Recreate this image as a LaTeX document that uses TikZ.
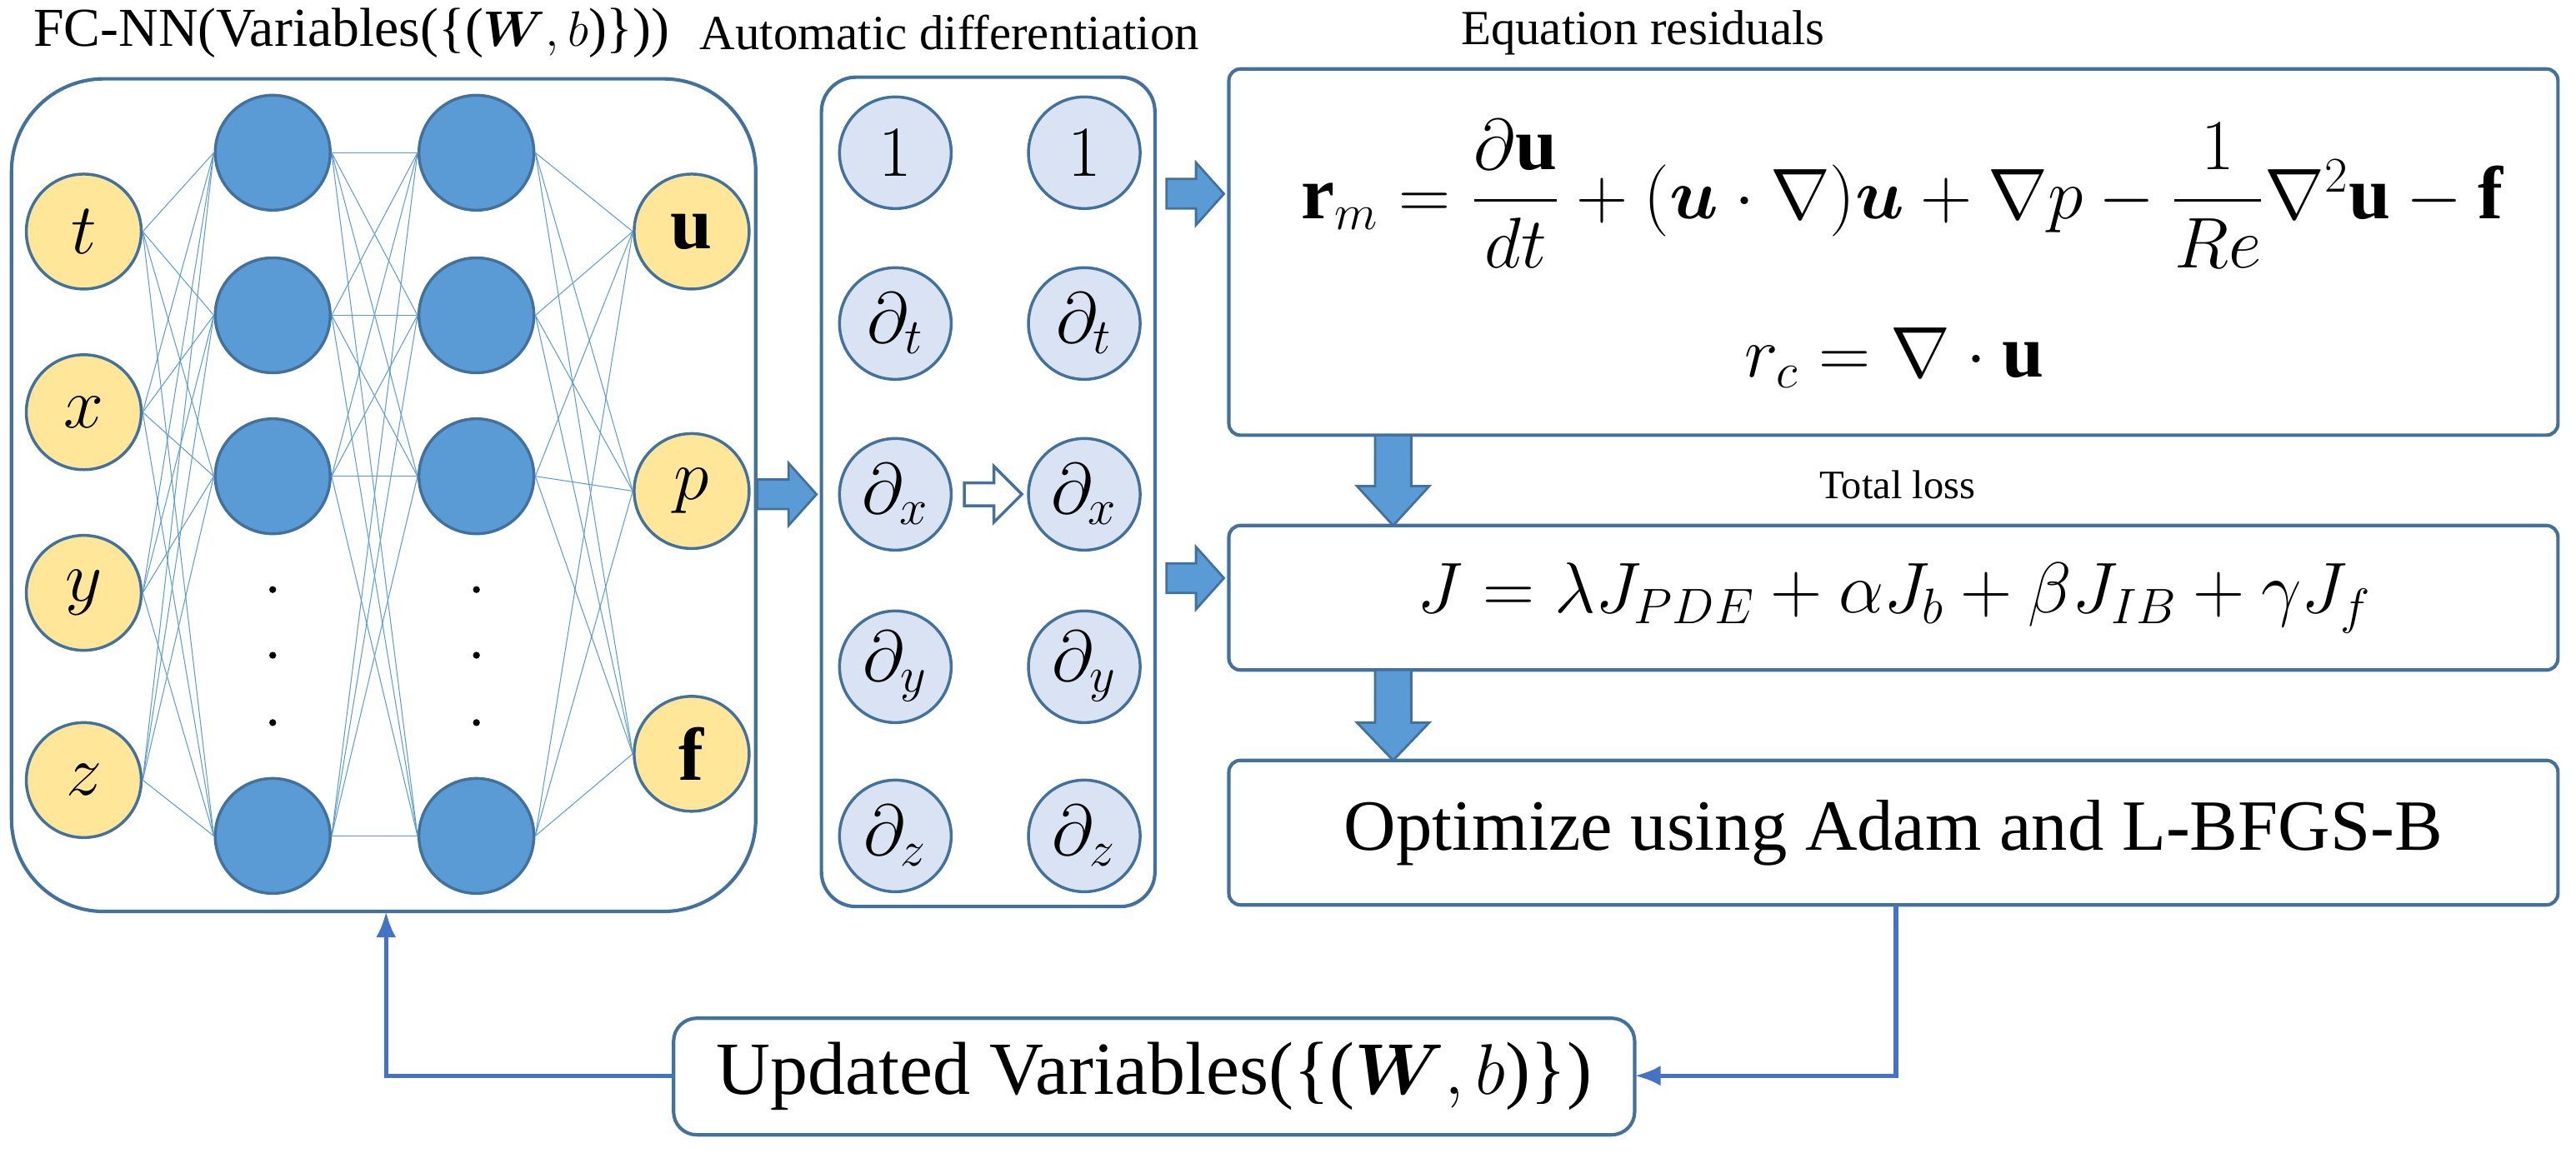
\documentclass[tikz,border=0pt]{standalone}
\usepackage{fontspec}
\setmainfont{Liberation Serif}
\usepackage{amsmath,bm}
\usetikzlibrary{arrows.meta}
\begin{document}
\begin{tikzpicture}[x=0.02cm,y=-0.02cm,
  edge/.style={draw={rgb,255:red,91;green,155;blue,213}, line width=0.3pt},
  inn/.style={circle, minimum size=1.4cm, inner sep=0, draw={rgb,255:red,65;green,113;blue,156}, line width=1pt, fill={rgb,255:red,255;green,230;blue,153}, font=\fontsize{26}{28}\selectfont},
  hid/.style={circle, minimum size=1.4cm, inner sep=0, draw={rgb,255:red,65;green,113;blue,156}, line width=1pt, fill={rgb,255:red,91;green,155;blue,213}},
  ad/.style={circle, minimum size=1.36cm, inner sep=0, draw={rgb,255:red,65;green,113;blue,156}, line width=1pt, fill={rgb,255:red,218;green,227;blue,243}, font=\fontsize{26}{28}\selectfont},
  box/.style={draw={rgb,255:red,65;green,113;blue,156}, line width=1.2pt, rounded corners=4pt},
  fat/.style={fill={rgb,255:red,91;green,155;blue,213}, draw={rgb,255:red,65;green,113;blue,156}, line width=0.8pt},
  ttl/.style={font=\fontsize{17}{19}\selectfont},
  fb/.style={draw={rgb,255:red,68;green,114;blue,196}, line width=1.5pt, -{Latex[length=9pt,width=7pt]}}
]
\useasboundingbox (0,0) rectangle (1568,702);
% titles
\node[font=\fontsize{19}{21}\selectfont] (t1) at (214,20) {FC-NN(Variables(\{($\bm{W},b$)\}))};
\node[ttl] (t2) at (578,20) {Automatic differentiation};
\node[ttl] (t3) at (1000,20) {Equation residuals};
\node[font=\fontsize{14}{16}\selectfont] (t4) at (1155,295) {Total loss};
% NN box
\draw[box, rounded corners=32pt] (7,48) rectangle (460,555);
\foreach \n/\y/\l in {t/141/t, x/251/x, y/361/y, z/475/z}
  \node[inn] (i\n) at (51,\y) {$\l$};
\foreach \n/\y in {1/93,2/192,3/290,4/509}{
  \node[hid] (a\n) at (166,\y) {};
  \node[hid] (b\n) at (290,\y) {};}
\node[inn] (ou) at (421,141) {$\mathbf{u}$};
\node[inn] (op) at (421,299) {$p$};
\node[inn] (of) at (421,459) {$\mathbf{f}$};
\foreach \i in {t,x,y,z}\foreach \j in {1,2,3,4}\draw[edge] (i\i.east) -- (a\j.west);
\foreach \i in {1,2,3,4}\foreach \j in {1,2,3,4}\draw[edge] (a\i.east) -- (b\j.west);
\foreach \i in {1,2,3,4}\foreach \j in {u,p,f}\draw[edge] (b\i.east) -- (o\j.west);
\foreach \y in {359,399,440}{\fill (166,\y) circle (1.2pt); \fill (290,\y) circle (1.2pt);}
% AD box
\draw[box, rounded corners=12pt] (500,47) rectangle (703,552);
\foreach \n/\y/\l in {1/93/1, t/197/\partial_t, x/301/\partial_x, y/406/\partial_y, z/509/\partial_z}{
  \node[ad] (c\n) at (545,\y) {$\l$};
  \node[ad] (d\n) at (660,\y) {$\l$};}
\draw[draw={rgb,255:red,65;green,113;blue,156}, line width=1pt, fill=white]
  (587,294)--(605,294)--(605,284)--(622,301)--(605,318)--(605,308)--(587,308)--cycle;
% fat arrows
\draw[fat] (461,292)--(480,292)--(480,282)--(497,301)--(480,320)--(480,310)--(461,310)--cycle;
\draw[fat] (710,109)--(728,109)--(728,99)--(745,118)--(728,137)--(728,127)--(710,127)--cycle;
\draw[fat] (710,343)--(728,343)--(728,333)--(745,352)--(728,371)--(728,361)--(710,361)--cycle;
% right boxes
\draw[box] (748,42) rectangle (1557,265);
\node[font=\fontsize{26}{30}\selectfont] (eq1) at (1158,118) {$\mathbf{r}_m=\dfrac{\partial\mathbf{u}}{dt}+(\bm{u}\cdot\nabla)\bm{u}+\nabla p-\dfrac{1}{Re}\nabla^2\mathbf{u}-\mathbf{f}$};
\node[font=\fontsize{26}{30}\selectfont] (eq2) at (1153,218) {$r_c=\nabla\cdot\mathbf{u}$};
\draw[fat] (837,265)--(859,265)--(859,296)--(870,296)--(848,320)--(826,296)--(837,296)--cycle;
\draw[box] (748,320) rectangle (1557,408);
\node[font=\fontsize{26}{30}\selectfont] (eq3) at (1153,364) {$J=\lambda J_{PDE}+\alpha J_b+\beta J_{IB}+\gamma J_f$};
\draw[fat] (837,408)--(859,408)--(859,440)--(870,440)--(848,463)--(826,440)--(837,440)--cycle;
\draw[box] (748,463) rectangle (1557,551) node[midway, font=\fontsize{25}{30}\selectfont] (opt) {Optimize using Adam and L-BFGS-B};
\draw[box, rounded corners=8pt] (410,620) rectangle (995,691) node[midway, font=\fontsize{26}{30}\selectfont] (upd) {Updated Variables(\{($\bm{W},b$)\})};
\coordinate (o1) at (1154,551);
\coordinate (nnb) at (235,555);
\draw[fb] (o1) |- (995,655);
\draw[fb] (410,655) -| (nnb);
\end{tikzpicture}
\end{document}
